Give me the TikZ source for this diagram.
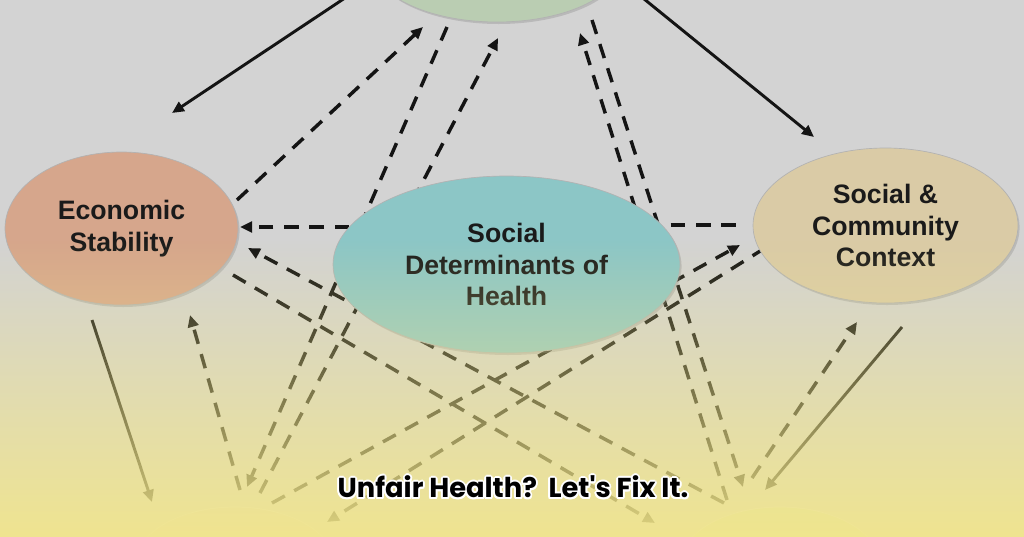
\documentclass[tikz,border=0pt]{standalone}
\usepackage{fontspec}
\setmainfont{Liberation Sans}
\newfontfamily\popfont{Poppins}
\usetikzlibrary{shapes.geometric,arrows.meta,fadings,shadows}
\definecolor{bg}{HTML}{D3D3D3}
\definecolor{ov}{HTML}{F2E68A}
\definecolor{cT}{HTML}{BACDB2}
\definecolor{cE}{HTML}{D6A68C}
\definecolor{cS}{HTML}{DACBA6}
\definecolor{cC}{HTML}{8CC6C6}
\definecolor{cBL}{HTML}{D8D2C8}
\definecolor{cBR}{HTML}{D2DCB8}
\definecolor{ln}{HTML}{141414}
\definecolor{txt}{HTML}{1A1A1A}
\tikzfading[name=fadeS, top color=transparent!100, bottom color=transparent!5]
\begin{document}
\begin{tikzpicture}[x=0.75pt,y=-0.75pt,
  ell/.style={ellipse, inner sep=0pt, draw=black!30, line width=0.5pt, align=center, text=txt,
    font=\bfseries\fontsize{20}{23.5}\selectfont,
    drop shadow={shadow xshift=1.2pt, shadow yshift=-1.5pt, opacity=0.3}},
  faint/.style={ellipse, inner sep=0pt, draw=black!12, line width=0.5pt},
  dl/.style={line width=2.6pt, dash pattern=on 11pt off 8pt, draw=ln},
  sl/.style={line width=2.2pt, draw=ln},
  arr/.style={-{Triangle[length=9pt,width=8pt]}},
  btext/.style={font=\popfont\bfseries\fontsize{20.5}{23}\selectfont, inner sep=0pt}
]
\useasboundingbox (0,0) rectangle (1024,536);
\clip (0,0) rectangle (1024,536);
\fill[bg] (-10,-10) rectangle (1034,546);

% end points of connectors
\coordinate (e1) at (237,200);  \coordinate (t1) at (423,27);
\coordinate (t2) at (447,27);   \coordinate (bl1) at (247,487);
\coordinate (bl2) at (260,493); \coordinate (t3) at (498,38);
\coordinate (c1) at (400,227);  \coordinate (e2) at (240,227);
\coordinate (br1) at (724,503); \coordinate (e3) at (248,248);
\coordinate (e4) at (233,275);  \coordinate (br2) at (655,523);
\coordinate (br3) at (727,500); \coordinate (t4) at (580,33);
\coordinate (t5) at (592,20);   \coordinate (br4) at (743,487);
\coordinate (c2) at (620,225);  \coordinate (s1) at (745,225);
\coordinate (bl3) at (272,503); \coordinate (s2) at (740,245);
\coordinate (s3) at (765,248);  \coordinate (bl4) at (327,522);
\coordinate (e5) at (92,320);   \coordinate (bl5) at (152,502);
\coordinate (bl6) at (240,490); \coordinate (e6) at (190,315);
\coordinate (s4) at (902,327);  \coordinate (br5) at (765,490);
\coordinate (br6) at (752,478); \coordinate (s5) at (857,322);
\coordinate (t6) at (357,-10);  \coordinate (e7) at (172,113);
\coordinate (t7) at (633,-10);  \coordinate (s6) at (814,137);

% dashed connectors
\draw[dl,arr] (e1) -- (t1);
\draw[dl,arr] (t2) -- (bl1);
\draw[dl,arr] (bl2) -- (t3);
\draw[dl,arr] (c1) -- (e2);
\draw[dl,arr] (br1) -- (e3);
\draw[dl,arr] (e4) -- (br2);
\draw[dl,arr] (br3) -- (t4);
\draw[dl,arr] (t5) -- (br4);
\draw[dl] (c2) -- (s1);
\draw[dl,arr] (bl3) -- (s2);
\draw[dl,arr] (s3) -- (bl4);
\draw[dl,arr] (bl6) -- (e6);
\draw[dl,arr] (br6) -- (s5);
% solid connectors
\draw[sl,arr] (t6) -- (e7);
\draw[sl,arr] (t7) -- (s6);
\draw[sl,arr] (e5) -- (bl5);
\draw[sl,arr] (s4) -- (br5);

% ellipses
\node[ell, fill=cT, minimum width=187.5pt, minimum height=90pt] (T) at (497,-38) {};
\node[faint, fill=cBL, minimum width=150pt, minimum height=87pt] (BL) at (235,565) {};
\node[faint, fill=cBR, minimum width=150pt, minimum height=87pt] (BR) at (780,565) {};
\node[ell, fill=cE, minimum width=174.75pt, minimum height=114.75pt] (E) at (121.5,228.5) {Economic\\Stability};
\node[ell, fill=cS, minimum width=198.75pt, minimum height=116.25pt] (S) at (885.5,225.5) {Social \&\\Community\\Context};
\node[ell, fill=cC, minimum width=260.25pt, minimum height=132.75pt] (C) at (506.5,264.5) {Social\\Determinants of\\Health};

% yellow fade
\fill[ov, path fading=fadeS] (-20,240) rectangle (1044,546);

% caption with white outline
\foreach \a [count=\k] in {0,22.5,...,337.5}
  \node[btext, text=white, xshift={1.4*cos(\a)}, yshift={1.4*sin(\a)}] (o\k) at (513,487) {Unfair Health?\ \ Let's Fix It.};
\node[btext, text=black] (cap) at (513,487) {Unfair Health?\ \ Let's Fix It.};
\end{tikzpicture}
\end{document}
